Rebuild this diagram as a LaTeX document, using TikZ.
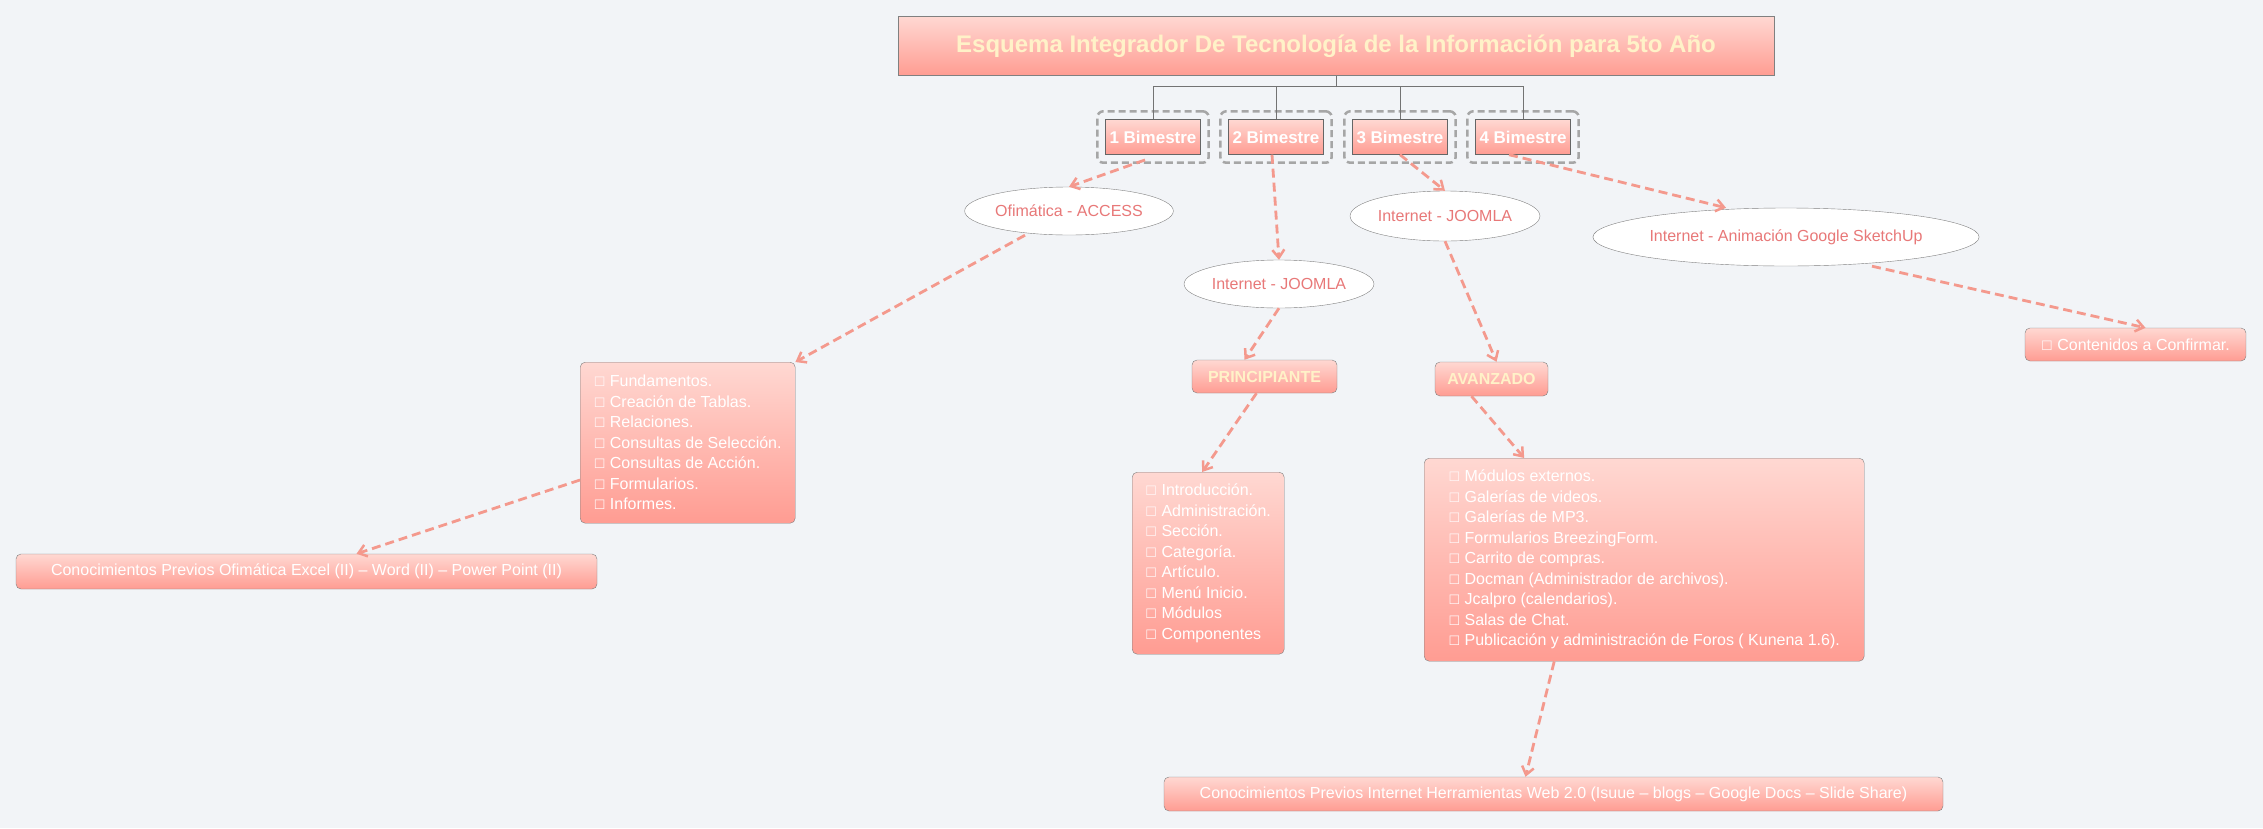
\documentclass[tikz,border=0pt]{standalone}
\usepackage{fontspec}
\setmainfont{Liberation Sans}
\newfontfamily\djfont{DejaVu Sans}
\usetikzlibrary{fit,shapes.geometric,arrows.meta}
\definecolor{bg}{HTML}{F2F4F7}
\definecolor{ptop}{HTML}{FFD8D2}
\definecolor{pbot}{HTML}{FF9C92}
\definecolor{arr}{HTML}{F4998D}
\definecolor{etext}{HTML}{E87878}
\definecolor{ytext}{HTML}{FFF2C8}
\newcommand{\cb}{{\djfont\fontsize{13}{13}\selectfont\color{white!85!pink}☐}\ }
\begin{document}
\begin{tikzpicture}[x=1pt,y=-1pt,
 pbox/.style={draw=black!50,rounded corners=5pt,top color=ptop,bottom color=pbot,text=white,font=\fontsize{16}{20.5}\selectfont,inner sep=0pt},
 lbox/.style={pbox,align=left,anchor=north west,inner xsep=6pt,inner ysep=4pt},
 bim/.style={draw=black!60,top color=ptop,bottom color=pbot,text=white,font=\bfseries\fontsize{17}{20}\selectfont,minimum width=95pt,minimum height=35pt,inner sep=0pt},
 dbox/.style={draw=black!35,dashed,line width=2.5pt,dash pattern=on 7pt off 4pt,rounded corners=6pt,inner sep=8pt},
 ell/.style={ellipse,draw=black!50,fill=white,text=etext,font=\fontsize{16}{18}\selectfont,inner sep=0pt},
 con/.style={arr,line width=2.8pt,dash pattern=on 9pt off 5pt,-{Straight Barb[length=8pt,width=12pt,line width=2.5pt]}},
 tree/.style={draw=black!55,line width=0.8pt}]
\fill[bg] (0,0) rectangle (2263,828);
\useasboundingbox (0,0) rectangle (2263,828);
\node[draw=black!50,top color=ptop,bottom color=pbot,text=ytext,font=\bfseries\fontsize{24}{28}\selectfont,minimum width=876pt,minimum height=59pt] (title) at (1336,46) {Esquema Integrador De Tecnología de la Información para 5to Año};
\node[bim] (b1) at (1153,137) {1 Bimestre};
\node[bim] (b2) at (1276,137) {2 Bimestre};
\node[bim] (b3) at (1400,137) {3 Bimestre};
\node[bim] (b4) at (1523,137) {4 Bimestre};
\foreach \i in {1,...,4}{\node[dbox,fit=(b\i)] (d\i) {};}
\coordinate (tj) at (1336,86);
\draw[tree] (title.south) -- (tj);
\draw[tree] (d1.north |- tj) -- (d4.north |- tj);
\foreach \i in {1,...,4}{\draw[tree] (d\i.north |- tj) -- (b\i.north);}
\node[ell,minimum width=170pt,minimum height=48pt] (ofi) at (1069,211) {Ofimática - ACCESS};
\node[ell,minimum width=165pt,minimum height=48pt] (j2) at (1279,284) {Internet - JOOMLA};
\node[ell,minimum width=165pt,minimum height=50pt] (j3) at (1445,216) {Internet - JOOMLA};
\node[ell,minimum width=326pt,minimum height=58pt] (sk) at (1786,237) {Internet - Animación Google SketchUp};
\node[pbox,minimum width=221pt,minimum height=33pt] (cc) at (2135.5,344.5) {\cb Contenidos a Confirmar.};
\node[pbox,text=ytext,font=\bfseries\fontsize{16}{18}\selectfont,minimum width=145pt,minimum height=33pt] (pr) at (1264.5,376.5) {PRINCIPIANTE};
\node[pbox,text=ytext,font=\bfseries\fontsize{16}{18}\selectfont,minimum width=113pt,minimum height=34pt] (av) at (1491.5,379) {AVANZADO};
\node[lbox,minimum width=215pt,minimum height=161pt] (la) at (580,362) {\cb Fundamentos.\\\cb Creación de Tablas.\\\cb Relaciones.\\\cb Consultas de Selección.\\\cb Consultas de Acción.\\\cb Formularios.\\\cb Informes.};
\node[pbox,minimum width=581pt,minimum height=35pt] (ce) at (306.5,571.5) {Conocimientos Previos Ofimática Excel (II) – Word (II) – Power Point (II)};
\node[lbox,minimum width=152pt,minimum height=182pt] (lp) at (1132,472) {\cb Introducción.\\\cb Administración.\\\cb Sección.\\\cb Categoría.\\\cb Artículo.\\\cb Menú Inicio.\\\cb Módulos\\\cb Componentes};
\node[lbox,minimum width=440pt,minimum height=203pt] (lv) at (1424,458) {\cb Módulos externos.\\\cb Galerías de videos.\\\cb Galerías de MP3.\\\cb Formularios BreezingForm.\\\cb Carrito de compras.\\\cb Docman (Administrador de archivos).\\\cb Jcalpro (calendarios).\\\cb Salas de Chat.\\\cb Publicación y administración de Foros ( Kunena 1.6).};
\node[pbox,minimum width=779pt,minimum height=34pt] (cw) at (1553.5,794) {Conocimientos Previos Internet Herramientas Web 2.0 (Isuue – blogs – Google Docs – Slide Share)};
\draw[con] (d1.south) ++(-8,-4) -- (ofi.north);
\draw[con] ([xshift=-4pt]b2.south) -- (j2.north);
\draw[con] (b3.south) -- (j3.north);
\draw[con] ([xshift=-14pt]b4.south) -- ([xshift=-60pt]sk.north);
\draw[con] ([xshift=-44pt]ofi.south) -- (la.north east);
\draw[con] (j2.south) -- ([xshift=-20pt]pr.north);
\draw[con] (j3.south) -- ([xshift=5pt]av.north);
\draw[con] ([xshift=86pt]sk.south) -- ([xshift=10pt]cc.north);
\draw[con] (la.west |- 0,480) -- ([xshift=50pt]ce.north);
\draw[con] ([xshift=-8pt]pr.south) -- ([xshift=-6pt]lp.north);
\draw[con] ([xshift=-20pt]av.south) -- ([xshift=-120pt]lv.north);
\draw[con] ([xshift=-90pt]lv.south) -- ([xshift=-28pt]cw.north);
\end{tikzpicture}
\end{document}
